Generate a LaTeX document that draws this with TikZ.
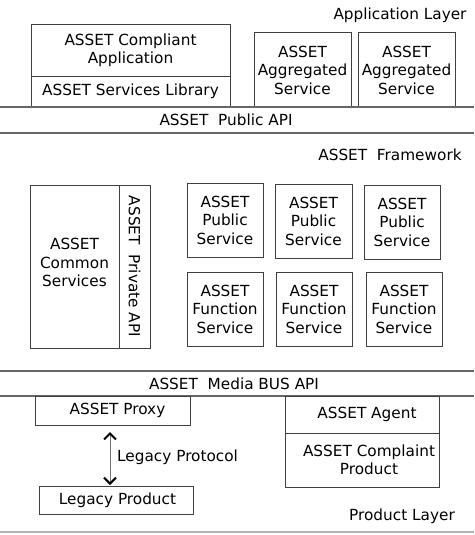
\documentclass[tikz,border=0pt]{standalone}
\usepackage{fontspec}
\setmainfont{DejaVu Sans}
\usetikzlibrary{arrows.meta}
\tikzset{
  txt/.style={font=\fontsize{15.3}{18.5}\selectfont, align=center, inner sep=0pt, text=black},
  box/.style={draw=black!75, line width=1pt, rectangle, outer sep=0pt, inner sep=0pt, txt},
  apiline/.style={draw=black!60, line width=1.1pt},
  mybarb/.tip={Straight Barb[color=black, line width=2pt, length=6pt, width=12pt]},
}
\newcommand{\bx}[6]{% name, x1, y1, x2, y2, text
  \node[box, minimum width={(#4-#2)*1pt}, minimum height={(#5-#3)*1pt}] (#1) at ({(#2+#4)/2},{(#3+#5)/2}) {#6};}
\begin{document}
\begin{tikzpicture}[x=1pt,y=-1pt]
\useasboundingbox (0,0) rectangle (474,535);
% Application layer
\node[txt] (applayer) at (400,15) {Application Layer};
\bx{app}{31}{25}{230}{76}{ASSET Compliant\\Application}
\bx{lib}{31}{76}{230}{107}{ASSET Services Library}
\bx{agga}{254}{33}{351}{107}{ASSET\\Aggregated\\Service}
\bx{aggb}{358}{33}{455}{107}{ASSET\\Aggregated\\Service}
% Public API
\coordinate (pl1) at (0,107); \coordinate (pr1) at (474,107);
\coordinate (pl2) at (0,133); \coordinate (pr2) at (474,133);
\draw[apiline] (pl1) -- (pr1);
\draw[apiline] (pl2) -- (pr2);
\node[txt] (pubapi) at (226,120) {ASSET\ \ Public API};
% Framework
\node[txt] (fw) at (390,155) {ASSET\ \ Framework};
\bx{common}{30}{185}{119}{348}{}
\node[txt] (commontxt) at ([yshift=4pt]common.center) {ASSET\\Common\\Services};
\bx{priv}{119}{185}{150}{348}{}
\node[txt, rotate=-90] (privtxt) at (priv.center) {ASSET\ \ Private API};
\bx{ps1}{187}{183}{263}{257}{ASSET\\Public\\Service}
\bx{ps2}{275}{184}{352}{258}{ASSET\\Public\\Service}
\bx{ps3}{364}{185}{440}{259}{ASSET\\Public\\Service}
\bx{fs1}{187}{272}{263}{346}{ASSET\\Function\\Service}
\bx{fs2}{276}{272}{352}{346}{ASSET\\Function\\Service}
\bx{fs3}{366}{272}{442}{346}{ASSET\\Function\\Service}
% Media BUS API
\coordinate (ml1) at (0,371); \coordinate (mr1) at (474,371);
\coordinate (ml2) at (0,396); \coordinate (mr2) at (474,396);
\draw[apiline] (ml1) -- (mr1);
\draw[apiline] (ml2) -- (mr2);
\node[txt] (busapi) at (234,384) {ASSET\ \ Media BUS API};
% Product layer
\bx{proxy}{35}{396}{190}{425}{\hspace*{10pt}ASSET Proxy}
\bx{legacy}{39}{486}{193}{514}{\hspace*{3pt}Legacy Product}
\bx{agent}{285}{396}{439}{433}{\hspace*{10pt}ASSET Agent}
\bx{cprod}{285}{433}{439}{487}{\hspace*{14pt}ASSET Complaint\\\hspace*{14pt}Product}
\coordinate (atop) at (110,432);
\coordinate (abot) at (110,485);
\draw[draw=black!55, line width=1pt, mybarb-mybarb] (atop) -- (abot);
\node[txt, anchor=west] (proto) at (117,457) {Legacy Protocol};
\node[txt] (prodlayer) at (402,516) {Product Layer};
\coordinate (bl) at (0,532); \coordinate (br) at (474,532);
\draw[draw=black!30, line width=2.5pt] (bl) -- (br);
\end{tikzpicture}
\end{document}
